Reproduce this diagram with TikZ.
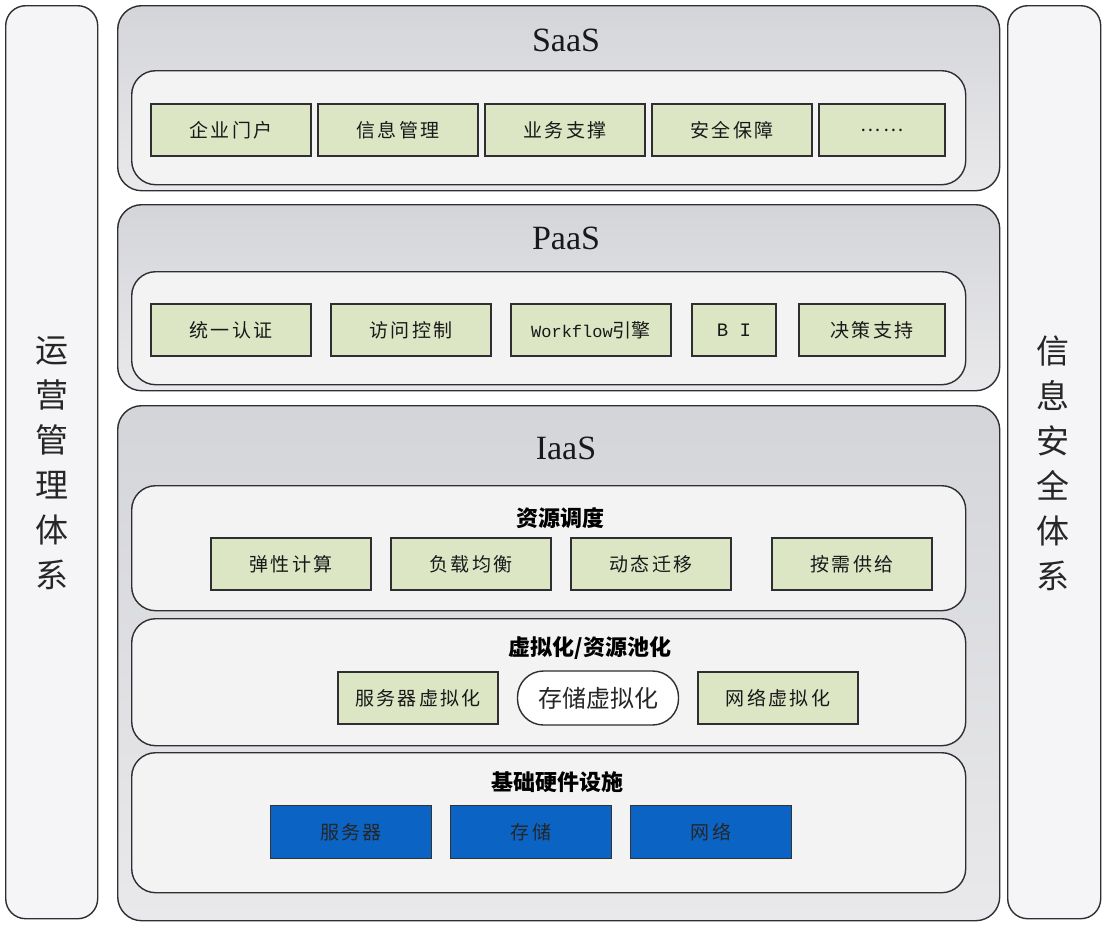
\documentclass[tikz,border=0pt]{standalone}
\usepackage{fontspec}
\setmainfont{Liberation Serif}
\newfontfamily\cjk{Noto Sans CJK SC}
\newfontfamily\cjkbox[LetterSpace=12]{Noto Sans CJK SC}
\newfontfamily\monofnt{Liberation Mono}
\definecolor{edge}{HTML}{2E2E33}
\definecolor{sidefill}{HTML}{F5F5F7}
\definecolor{outtop}{HTML}{D4D5D9}
\definecolor{outbot}{HTML}{E9E9EB}
\definecolor{innfill}{HTML}{F3F3F4}
\definecolor{gfill}{HTML}{DCE5C4}
\definecolor{bfill}{HTML}{0B63C4}
\begin{document}
\begin{tikzpicture}[x=1pt,y=-1pt,
  side/.style={draw=edge, line width=1.4pt, fill=sidefill, rounded corners=20pt, anchor=north west, inner sep=0pt},
  panel/.style={draw=edge, line width=1.4pt, top color=outtop, bottom color=outbot, rounded corners=24pt, anchor=north west, inner sep=0pt, minimum width=882pt},
  inner/.style={draw=edge, line width=1.4pt, fill=innfill, rounded corners=24pt, anchor=north west, inner sep=0pt, minimum width=834pt},
  gbox/.style={draw=edge, line width=1.4pt, fill=gfill, minimum height=52pt, inner sep=0pt, font=\cjkbox\fontsize{19}{21}\selectfont, text=black!90},
  bbox/.style={draw=black!80, line width=1.4pt, fill=bfill, minimum width=161pt, minimum height=53pt, inner sep=0pt, font=\cjkbox\fontsize{19}{21}\selectfont, text=black!85},
  ttl/.style={font=\fontsize{34}{36}\selectfont, text=black!90},
  sect/.style={font=\cjk\bfseries\fontsize{22}{24}\selectfont, text=black},
  sidetxt/.style={font=\cjk\fontsize{33}{45}\selectfont, text=black!85, align=center}
]
\useasboundingbox (0,0) rectangle (1106,932);
\fill[white] (0,0) rectangle (1106,932);

% side columns
\node[side, minimum width=92pt, minimum height=913pt] (left) at (5,5) {};
\node[side, minimum width=93pt, minimum height=913pt] (right) at (1007,5) {};
\node[sidetxt] (lt) at (52,463) {运\\营\\管\\理\\体\\系};
\node[sidetxt] (rt) at (1053,463) {信\\息\\安\\全\\体\\系};

% SaaS
\node[panel, minimum height=185pt] (saas) at (117,5) {};
\node[ttl] (saast) at (566,40) {SaaS};
\node[inner, minimum height=114pt] (saasi) at (131,70) {};
\node[gbox, minimum width=160pt] (s1) at (231,130) {企业门户};
\node[gbox, minimum width=160pt] (s2) at (398,130) {信息管理};
\node[gbox, minimum width=160pt] (s3) at (565,130) {业务支撑};
\node[gbox, minimum width=160pt] (s4) at (732,130) {安全保障};
\node[gbox, minimum width=126pt] (s5) at (882,130) {……};

% PaaS
\node[panel, minimum height=186pt] (paas) at (117,204) {};
\node[ttl] (paast) at (566,238) {PaaS};
\node[inner, minimum height=113pt] (paasi) at (131,271) {};
\node[gbox, minimum width=160pt] (p1) at (231,330) {统一认证};
\node[gbox, minimum width=160pt] (p2) at (411,330) {访问控制};
\node[gbox, minimum width=160pt] (p3) at (591,330) {{\monofnt\fontsize{17}{20}\selectfont Workflow}{\cjk 引擎}};
\node[gbox, minimum width=84pt] (p4) at (734,330) {{\monofnt B I}};
\node[gbox, minimum width=146pt] (p5) at (872,330) {决策支持};

% IaaS
\node[panel, minimum height=515pt] (iaas) at (117,405) {};
\node[ttl] (iaast) at (566,448) {IaaS};

\node[inner, minimum height=125pt] (ia1) at (131,485) {};
\node[sect] (ia1t) at (560,518) {资源调度};
\node[gbox, minimum width=160pt] (r1) at (291,564) {弹性计算};
\node[gbox, minimum width=160pt] (r2) at (471,564) {负载均衡};
\node[gbox, minimum width=160pt] (r3) at (651,564) {动态迁移};
\node[gbox, minimum width=160pt] (r4) at (852,564) {按需供给};

\node[inner, minimum height=127pt] (ia2) at (131,618) {};
\node[sect] (ia2t) at (590,648) {虚拟化/资源池化};
\node[gbox, minimum width=160pt] (v1) at (418,698) {服务器虚拟化};
\node[draw=edge, line width=1.4pt, fill=white, rounded corners=26pt, minimum width=161pt, minimum height=54pt, inner sep=0pt, font=\cjk\fontsize{24}{26}\selectfont, text=black!85] (v2) at (598,698) {存储虚拟化};
\node[gbox, minimum width=160pt] (v3) at (778,698) {网络虚拟化};

\node[inner, minimum height=140pt] (ia3) at (131,752) {};
\node[sect] (ia3t) at (557,782) {基础硬件设施};
\node[bbox] (h1) at (351,832) {服务器};
\node[bbox] (h2) at (531,832) {存储};
\node[bbox] (h3) at (711,832) {网络};
\end{tikzpicture}
\end{document}
